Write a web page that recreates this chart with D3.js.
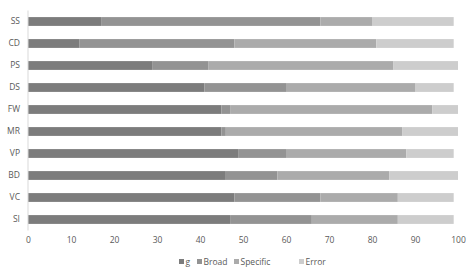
<!DOCTYPE html>
<html><head><meta charset="utf-8">
<script src="https://cdn.jsdelivr.net/npm/d3@7"></script>
<style>body{margin:0;background:#fff}svg{display:block}text{font-family:"Open Sans",sans-serif}</style>
</head><body><svg id="c" width="474" height="276"></svg>
<script>
const categories = ["SS","CD","PS","DS","FW","MR","VP","BD","VC","SI"];
const seriesNames = ["g","Broad","Specific","Error"];
const gVals =        [17,12,29,41,45,45,49,46,48,47];
const broadVals =    [51,36,13,19,2,1,11,12,20,19];
const specificVals = [12,33,43,30,47,41,28,26,18,20];
const errorVals =    [19,18,15,9,6,13,11,16,13,13];
const xTicks = [0,10,20,30,40,50,60,70,80,90,100];
const colors = ["#7c7c7c","#939393","#ababab","#cdcdcd"];

const rows = categories.map((c,i)=>({cat:c,g:gVals[i],Broad:broadVals[i],Specific:specificVals[i],Error:errorVals[i]}));
const stack = d3.stack().keys(seriesNames)(rows);
const svg = d3.select("#c");
const x = d3.scaleLinear().domain([0,100]).range([28,458]);
const y = d3.scaleBand().domain(categories).range([10.5,230.5]).paddingInner(0.6).paddingOuter(0.3);
const color = d3.scaleOrdinal().domain(seriesNames).range(colors);

svg.append("g").selectAll("g").data(stack).join("g").attr("fill",d=>color(d.key))
  .selectAll("rect").data(d=>d).join("rect")
  .attr("x",d=>x(d[0])).attr("width",d=>x(d[1])-x(d[0]))
  .attr("y",d=>y(d.data.cat)).attr("height",y.bandwidth());

svg.append("line").attr("x1",x(0)).attr("x2",x(0)).attr("y1",10.5).attr("y2",230.5)
  .attr("stroke","#d9d9d9").attr("stroke-width",1);

const xa = svg.append("g").attr("transform","translate(0,237)")
  .call(d3.axisBottom(x).tickValues(xTicks).tickSize(0).tickPadding(0));
xa.select(".domain").remove();
xa.selectAll("text").attr("fill","#595959").style("font-size","8.5px").attr("dy","0.71em");

const ya = svg.append("g").attr("transform","translate(20,0)")
  .call(d3.axisLeft(y).tickSize(0).tickPadding(0));
ya.select(".domain").remove();
ya.selectAll("text").attr("fill","#595959").style("font-size","8.5px");

const legendX = [179,197,234,299];
const lg = svg.append("g").selectAll("g").data(seriesNames).join("g")
  .attr("transform",(d,i)=>`translate(${legendX[i]},262)`);
lg.append("rect").attr("x",0).attr("y",-3).attr("width",5).attr("height",5).attr("fill",d=>color(d));
lg.append("text").attr("x",6.5).attr("y",0).attr("dy","0.35em").attr("fill","#595959")
  .style("font-size","8.5px").text(d=>d);
</script></body></html>
